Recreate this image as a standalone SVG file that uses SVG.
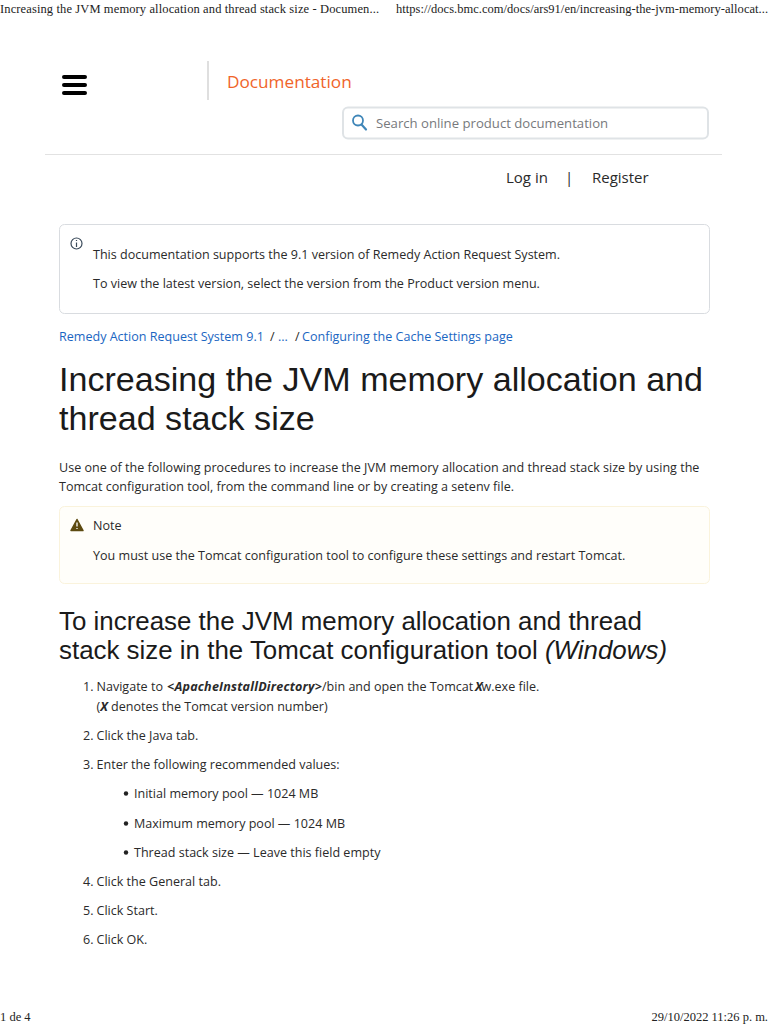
<svg xmlns="http://www.w3.org/2000/svg" width="768" height="1024" viewBox="0 0 768 1024">
<style>
text{font-family:"Open Sans","Noto Sans","DejaVu Sans",sans-serif;fill:#2a2a2a;font-size:12.550px}
.s{font-family:"Liberation Serif","Times New Roman",serif;font-size:12.500px;fill:#222}
.h{font-family:"Liberation Sans",Arial,sans-serif;fill:#1a1a1a}
.h1{font-size:34.100px}
.h2{font-size:25.900px}
.l{fill:#1a66c2}
.b{font-weight:700;font-style:italic}
</style>
<rect width="768" height="1024" fill="#fff"/>
<text class="s" x="0" y="13" textLength="379" lengthAdjust="spacing">Increasing the JVM memory allocation and thread stack size - Documen...</text>
<text class="s" x="396" y="13" textLength="372" lengthAdjust="spacing">https://docs.bmc.com/docs/ars91/en/increasing-the-jvm-memory-allocat...</text>
<g id="header">
<path d="M64 77H85M64 85H85M64 93H85" stroke="#000" stroke-width="4" stroke-linecap="round" fill="none"/>
<path d="M208 61V100" stroke="#d5d5d5" stroke-width="1.500"/>
<text x="227" y="88" style="font-size:17.200px;fill:#f0642a">Documentation</text>
<rect x="343" y="107.500" width="365" height="31" rx="5" fill="#fff" stroke="#dfe3e6" stroke-width="2"/>
<circle cx="358" cy="120.500" r="5" fill="none" stroke="#3f86b8" stroke-width="1.800"/>
<path d="M361.500 124.500L366 129.500" stroke="#3f86b8" stroke-width="2.200" stroke-linecap="round"/>
<text x="376" y="128" style="font-size:13.150px;fill:#77797c">Search online product documentation</text>
<path d="M45 154.500H722" stroke="#e2e2e2"/>
<text x="506" y="183" style="font-size:15px">Log in</text>
<text x="565" y="183" style="font-size:15px">|</text>
<text x="592" y="183" style="font-size:15px">Register</text>
</g>
<g id="info">
<rect x="59.500" y="224.500" width="650" height="89" rx="5" fill="#fff" stroke="#d9dce0"/>
<circle cx="76.500" cy="243.500" r="5.500" fill="none" stroke="#3a4a5a" stroke-width="1.200"/>
<path d="M76.500 242.500V247M76.500 240V241" stroke="#3a4a5a" stroke-width="1.200"/>
<text x="93" y="258.500">This documentation supports the 9.1 version of Remedy Action Request System.</text>
<text x="93" y="287.500">To view the latest version, select the version from the Product version menu.</text>
</g>
<g id="breadcrumb">
<text x="59" y="340.500" class="l">Remedy Action Request System 9.1</text>
<text x="270" y="340.500">/</text>
<text x="278" y="340.500" class="l">...</text>
<text x="295" y="340.500">/</text>
<text x="302" y="340.500" class="l">Configuring the Cache Settings page</text>
</g>
<text class="h h1" x="59" y="391">Increasing the JVM memory allocation and</text>
<text class="h h1" x="59" y="430">thread stack size</text>
<text x="59" y="471.500">Use one of the following procedures to increase the JVM memory allocation and thread stack size by using the</text>
<text x="59" y="490.500">Tomcat configuration tool, from the command line or by creating a setenv file.</text>
<g id="note">
<rect x="59.500" y="506.500" width="650" height="77" rx="5" fill="#fffefa" stroke="#faf3dc"/>
<path d="M77 519.500L83 530.500H71Z" fill="#5c4a10" stroke="#5c4a10" stroke-width="1.500" stroke-linejoin="round"/>
<path d="M77 522.500V526.500M77 528V529" stroke="#fff" stroke-width="1.300"/>
<text x="93" y="529.500">Note</text>
<text x="93" y="559.500">You must use the Tomcat configuration tool to configure these settings and restart Tomcat.</text>
</g>
<text class="h h2" x="59" y="630">To increase the JVM memory allocation and thread</text>
<text class="h h2" x="59" y="659">stack size in the Tomcat configuration tool <tspan font-style="italic">(Windows)</tspan></text>
<g id="steps">
<text x="83" y="691">1.</text>
<text x="96.500" y="691">Navigate to</text>
<text x="167" y="691" class="b" textLength="155" lengthAdjust="spacing">&lt;ApacheInstallDirectory&gt;</text>
<text x="322" y="691">/bin and open the Tomcat</text>
<text x="475" y="691" class="b">X</text>
<text x="481.500" y="691">w.exe file.</text>
<text x="96.500" y="710.500">(<tspan class="b">X</tspan> denotes the Tomcat version number)</text>
<text x="83" y="739.500">2.</text><text x="96.500" y="739.500">Click the Java tab.</text>
<text x="83" y="768.500">3.</text><text x="96.500" y="768.500">Enter the following recommended values:</text>
<circle cx="126" cy="793.500" r="2.200" fill="#222"/><text x="134" y="797.500">Initial memory pool — 1024 MB</text>
<circle cx="126" cy="823.500" r="2.200" fill="#222"/><text x="134" y="827.500">Maximum memory pool — 1024 MB</text>
<circle cx="126" cy="852.500" r="2.200" fill="#222"/><text x="134" y="856.500">Thread stack size — Leave this field empty</text>
<text x="83" y="885.500">4.</text><text x="96.500" y="885.500">Click the General tab.</text>
<text x="83" y="914.500">5.</text><text x="96.500" y="914.500">Click Start.</text>
<text x="83" y="943.500">6.</text><text x="96.500" y="943.500">Click OK.</text>
</g>
<text class="s" x="0" y="1021">1 de 4</text>
<text class="s" x="768" y="1021" text-anchor="end">29/10/2022 11:26 p. m.</text>
</svg>
